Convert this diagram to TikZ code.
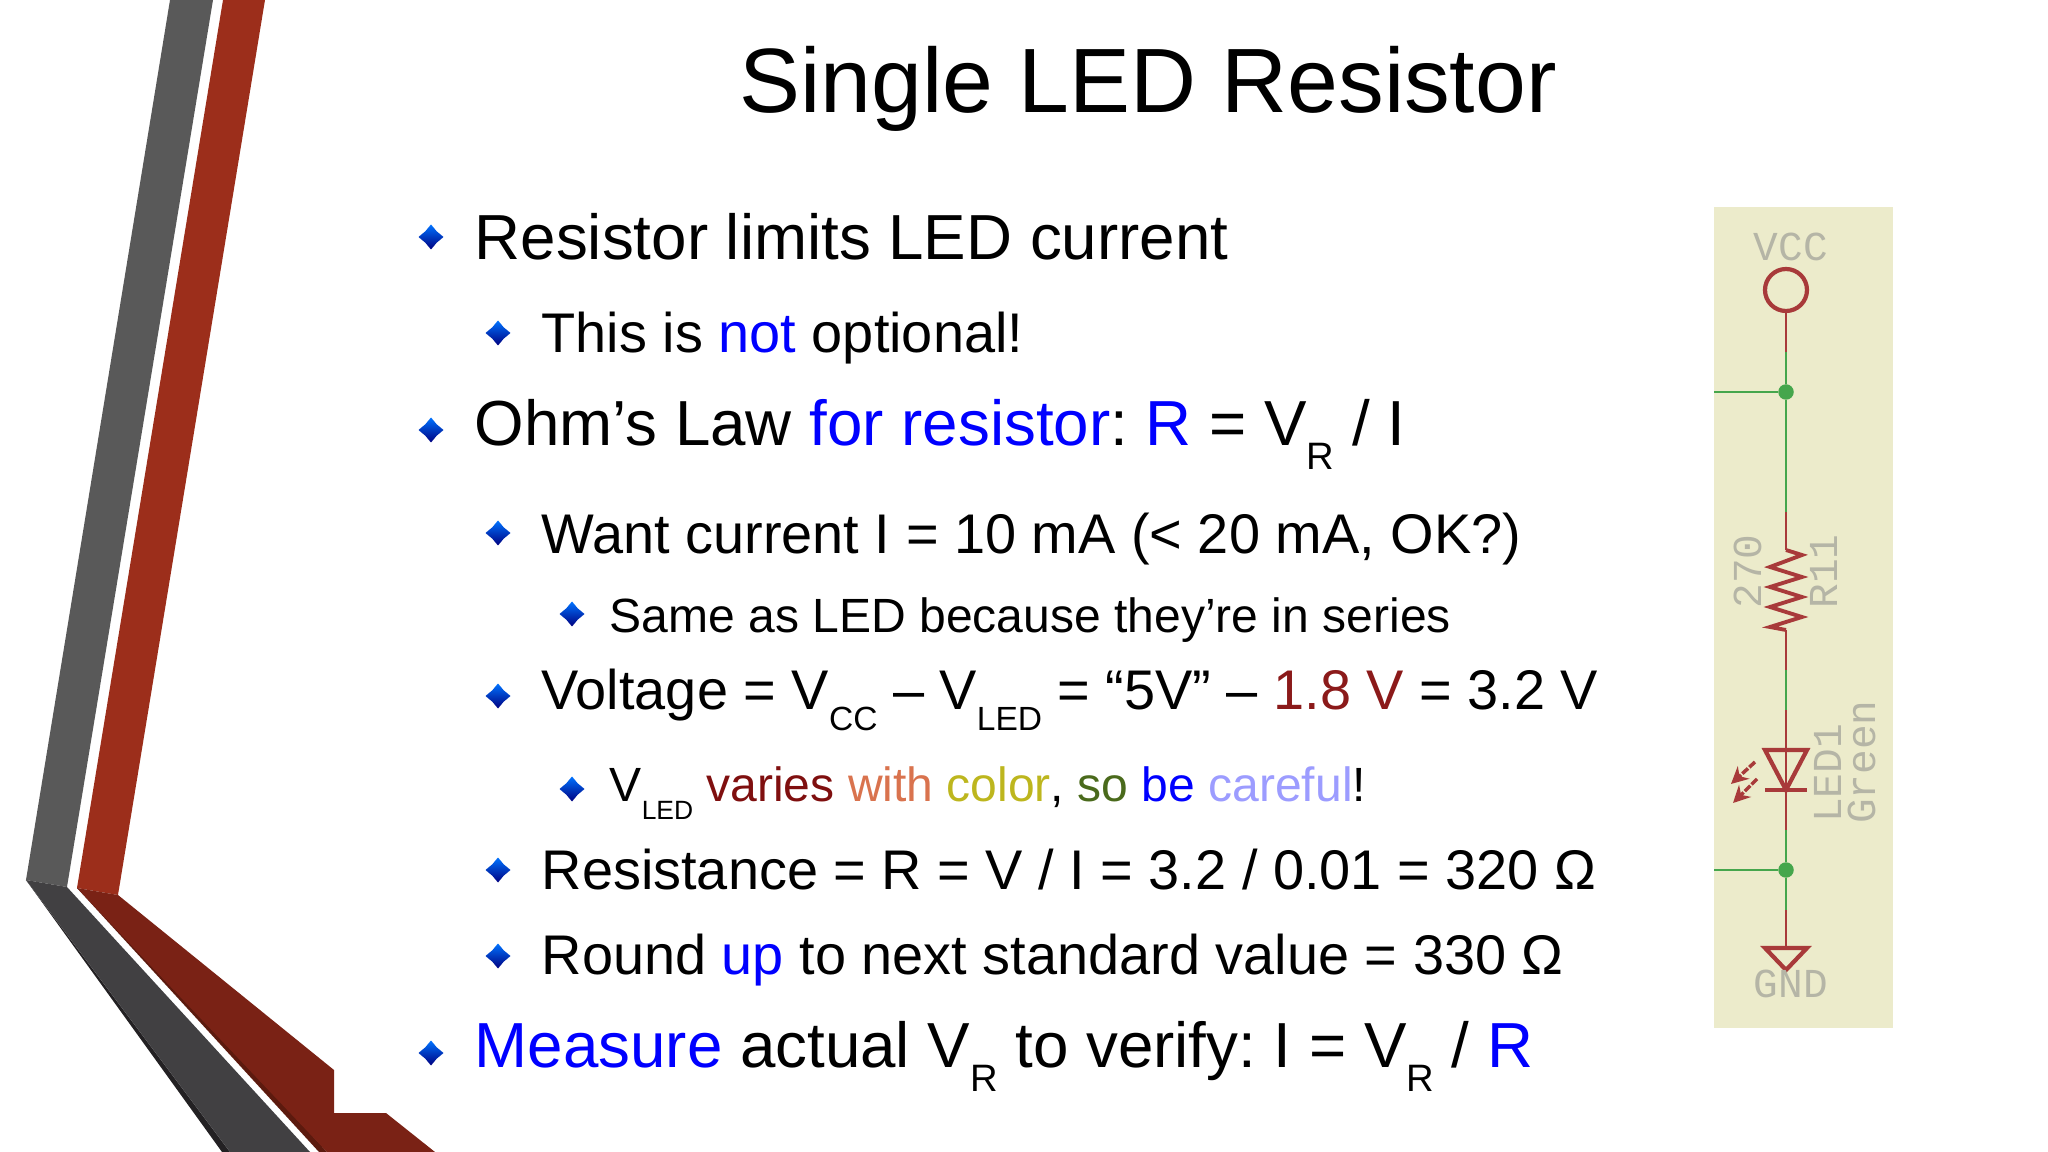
\documentclass[tikz,border=0pt]{standalone}
\usepackage{xcolor}
\usepackage{fontspec}
\setmainfont{Liberation Sans}
\newfontfamily\eaglefont{Liberation Mono}
\usetikzlibrary{positioning, arrows.meta, shapes.geometric}
\definecolor{panelbg}{HTML}{ECEBCB}
\definecolor{netgreen}{HTML}{45A64C}
\definecolor{partred}{HTML}{A83A3A}
\definecolor{labelgrey}{HTML}{B5B5A6}
\definecolor{barbgrey}{HTML}{595959}
\definecolor{barbgreydk}{HTML}{414042}
\definecolor{barbgreyedge}{HTML}{232123}
\definecolor{barbred}{HTML}{9C2E1B}
\definecolor{barbreddk}{HTML}{7A2215}
\definecolor{barbrededge}{HTML}{5C1A0E}
\definecolor{hiblue}{HTML}{0000FF}
\definecolor{hired}{HTML}{8B1A1A}
\definecolor{himaroon}{HTML}{7F0F0F}
\definecolor{hiorange}{HTML}{D9734E}
\definecolor{hiolive}{HTML}{BDB61E}
\definecolor{higreen}{HTML}{4A6A1C}
\definecolor{hililac}{HTML}{9C9CFF}
\newcommand{\lowsub}[2][.6]{\raisebox{-.38em}{\scalebox{#1}{#2}}}
\tikzset{
  titletext/.style={inner sep=0, anchor=base, text=black, font=\frenchspacing\fontsize{26}{30}\selectfont},
  levelone/.style={inner sep=0, anchor=base west, text=black, font=\frenchspacing\fontsize{18.12}{22}\selectfont},
  leveltwo/.style={inner sep=0, anchor=base west, text=black, font=\frenchspacing\fontsize{15.9}{19}\selectfont},
  levelthree/.style={inner sep=0, anchor=base west, text=black, font=\frenchspacing\fontsize{13.67}{16}\selectfont},
  bulletmark/.style={star, star points=4, star point ratio=1.55, inner sep=0, minimum size=.25cm,
    top color=blue!55!cyan, bottom color=blue!50!black, draw=none},
  netwire/.style={netgreen, line width=.8pt},
  partwire/.style={partred, line width=.8pt},
  partline/.style={partred, line width=1.2pt, line join=miter},
  junction/.style={circle, fill=netgreen, inner sep=0, minimum size=.155cm},
  partlabel/.style={inner sep=0, text=labelgrey, font=\fontsize{11.7}{12}\eaglefont},
  sidelabel/.style={partlabel, rotate=90},
  rayarrow/.style={partred, line width=1pt, dash pattern=on 2.2pt off .5pt, -{Stealth[length=.17cm,width=.17cm]}}
}
\begin{document}
\begin{tikzpicture}[>=Stealth]
  \useasboundingbox (0,0) rectangle (20.48,-11.52);

  % left ribbon
  \fill [barbgrey] (1.70,0) -- (2.13,0) -- (0.67,-8.87) -- (0.26,-8.80) -- cycle;
  \fill [barbgreyedge] (0.26,-8.80) -- (2.30,-11.52) -- (2.22,-11.52) -- cycle;
  \fill [barbgreydk] (0.26,-8.80) -- (0.67,-8.87) -- (3.10,-11.52) -- (2.30,-11.52) -- cycle;
  \fill [barbred] (2.23,0) -- (2.65,0) -- (1.18,-8.95) -- (0.77,-8.88) -- cycle;
  \fill [barbrededge] (0.77,-8.88) -- (1.00,-9.00) -- (3.27,-11.52) -- (3.19,-11.52) -- cycle;
  \fill [barbreddk] (0.77,-8.88) -- (1.18,-8.95) -- (3.34,-10.70) -- (3.34,-11.13) -- (3.86,-11.13)
    -- (4.35,-11.52) -- (3.27,-11.52) -- cycle;

  % slide text
  \node [titletext] (title) at (11.48,-1.13) {Single LED Resistor};

  \node [levelone] (limits) at (4.74,-2.597) {Resistor limits LED current};
  \node [leveltwo] (optional) at (5.41,-3.525) {This is \textcolor{hiblue}{not} optional!};
  \node [levelone] (ohm) at (4.74,-4.455) {Ohm’s Law \textcolor{hiblue}{for resistor}: \textcolor{hiblue}{R} = V\lowsub{R} / I};
  \node [leveltwo] (want) at (5.41,-5.54) {Want current I = 10 mA (< 20 mA, OK?)};
  \node [levelthree] (same) at (6.09,-6.33) {Same as LED because they’re in series};
  \node [leveltwo] (voltage) at (5.41,-7.095) {Voltage = V\lowsub{CC} – V\lowsub{LED} = “5V” – \textcolor{hired}{1.8 V} = 3.2 V};
  \node [levelthree] (varies) at (6.09,-8.01) {V\lowsub[.55]{LED} \textcolor{himaroon}{varies} \textcolor{hiorange}{with} \textcolor{hiolive}{color}, \textcolor{higreen}{so} \textcolor{hiblue}{be} \textcolor{hililac}{careful}!};
  \node [leveltwo] (resistance) at (5.41,-8.895) {Resistance = R = V / I = 3.2 / 0.01 = 320 Ω};
  \node [leveltwo] (round) at (5.41,-9.74) {Round \textcolor{hiblue}{up} to next standard value = 330 Ω};
  \node [levelone] (measure) at (4.74,-10.675) {\textcolor{hiblue}{Measure} actual V\lowsub{R} to verify: I = V\lowsub{R} / \textcolor{hiblue}{R}};

  \foreach \name/\x/\y in {limits/4.31/-2.37, optional/4.98/-3.33, ohm/4.31/-4.30, want/4.98/-5.33,
      same/5.72/-6.14, voltage/4.98/-6.96, varies/5.72/-7.89, resistance/4.98/-8.70,
      round/4.98/-9.56, measure/4.31/-10.53}
    \node [bulletmark] (bullet\name) at (\x,\y) {};

  % schematic
  \fill [panelbg] (17.14,-2.07) rectangle (18.93,-10.28);

  \node [circle, draw=partred, line width=1.2pt, inner sep=0, minimum size=.42cm] (vcc) at (17.86,-2.90) {};
  \node [partlabel] (vcclabel) at (17.91,-2.47) {VCC};
  \coordinate (vccend) at (17.86,-3.52);
  \node [junction] (topdot) at (17.86,-3.92) {};
  \coordinate (topleft) at (17.14,-3.92);
  \coordinate (resbegin) at (17.86,-5.12);
  \coordinate (resin) at (17.86,-5.50);
  \coordinate (resout) at (17.86,-6.30);
  \coordinate (resend) at (17.86,-6.70);
  \coordinate (ledbegin) at (17.86,-7.10);
  \coordinate (ledtop) at (17.86,-7.50);
  \coordinate (ledbar) at (17.86,-7.90);
  \coordinate (ledend) at (17.86,-8.30);
  \node [junction] (lowdot) at (17.86,-8.70) {};
  \coordinate (lowleft) at (17.14,-8.70);
  \coordinate (gndbegin) at (17.86,-9.10);
  \coordinate (gndtop) at (17.86,-9.48);

  \draw [partwire] (vcc) -- (vccend);
  \draw [netwire] (vccend) -- (topdot);
  \draw [netwire] (topleft) -- (topdot);
  \draw [netwire] (topdot) -- (resbegin);
  \draw [partwire] (resbegin) -- (resin);
  \draw [partline, line width=1.1pt] (resin) -- ++(.16,-.05) -- ++(-.32,-.12) -- ++(.32,-.10) -- ++(-.32,-.10)
    -- ++(.32,-.10) -- ++(-.32,-.10) -- ++(.32,-.10) -- ++(-.32,-.10) -- (resout);
  \draw [partwire] (resout) -- (resend);
  \draw [netwire] (resend) -- (ledbegin);
  \draw [partwire] (ledbegin) -- (ledend);
  \draw [netwire] (ledend) -- (lowdot);
  \draw [netwire] (lowleft) -- (lowdot);
  \draw [netwire] (lowdot) -- (gndbegin);
  \draw [partwire] (gndbegin) -- (gndtop);

  \draw [partline] (ledtop) ++(-.21,0) -- ++(.42,0) -- (ledbar) -- cycle;
  \draw [partline] (ledbar) ++(-.21,0) -- ++(.42,0);
  \draw [partline] (gndtop) ++(-.21,0) -- ++(.42,0) -- ++(-.21,-.22) -- cycle;

  \coordinate (raytail) at (17.55,-7.62);
  \coordinate (rayhead) at (17.31,-7.84);
  \coordinate (raytailb) at (17.57,-7.79);
  \coordinate (rayheadb) at (17.33,-8.03);
  \draw [rayarrow] (raytail) -- (rayhead);
  \draw [rayarrow] (raytailb) -- (rayheadb);

  \node [partlabel] (gndlabel) at (17.91,-9.84) {GND};
  \node [sidelabel] (valuelabel) at (17.475,-5.715) {270};
  \node [sidelabel] (reslabel) at (18.235,-5.715) {R11};
  \node [sidelabel] (ledlabel) at (18.275,-7.735) {LED1};
  \node [sidelabel] (colorlabel) at (18.615,-7.62) {Green};
\end{tikzpicture}
\end{document}
